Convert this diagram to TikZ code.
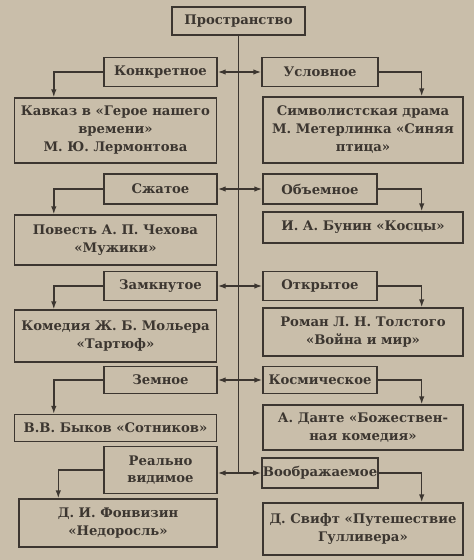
\documentclass[tikz,border=0pt]{standalone}
\usepackage{fontspec}
\setmainfont{DejaVu Serif}
\usetikzlibrary{arrows.meta}
\definecolor{paper}{RGB}{201,190,170}
\definecolor{ink}{RGB}{60,54,48}
\begin{document}
\begin{tikzpicture}[x=1pt,y=-1pt,line width=1.4pt,draw=ink,text=ink,>={Latex[length=8pt,width=5.5pt]},
    kind node/.style={rectangle,draw=ink,minimum width=113pt,minimum height=29pt,align=center,inner sep=1pt,font=\bfseries\fontsize{13.2}{17}\selectfont},
    work node/.style={rectangle,draw=ink,minimum width=202pt,align=center,inner sep=1pt,font=\bfseries\fontsize{13.2}{18}\selectfont}]
                \useasboundingbox[fill=paper] (0,0) rectangle (474,560);

                \node[kind node,minimum width=133pt,minimum height=28pt] at (238.5, 21) (space) {Пространство};
                \coordinate (spine) at (238.5, 473);

                \node[kind node] at (160.5, 72) (conc) {Конкретное};
                \node[kind node,minimum width=116pt] at (320, 72) (cond) {Условное};
                \node[work node,minimum height=65pt] at (115.5, 130.5) (lerm) {Кавказ в «Герое нашего\\времени»\\М. Ю. Лермонтова};
                \node[work node,minimum width=200pt,minimum height=66pt] at (363, 130) (maet) {Символистская драма\\М. Метерлинка «Синяя\\птица»};

                \node[kind node,minimum height=30pt] at (160.5, 189) (comp) {Сжатое};
                \node[kind node,minimum width=114pt,minimum height=30pt] at (320, 189) (vol) {Объемное};
                \node[work node,minimum height=50pt] at (115.5, 240) (chek) {Повесть А. П. Чехова\\«Мужики»};
                \node[work node,minimum width=200pt,minimum height=31pt] at (363, 227.5) (bun) {И. А. Бунин «Косцы»};

                \node[kind node] at (160.5, 286) (closed) {Замкнутое};
                \node[kind node,minimum width=114pt] at (320, 286) (open) {Открытое};
                \node[work node,minimum height=52pt] at (115.5, 336) (mol) {Комедия Ж. Б. Мольера\\«Тартюф»};
                \node[work node,minimum width=200pt,minimum height=48pt] at (363, 332) (tol) {Роман Л. Н. Толстого\\«Война и мир»};

                \node[kind node,minimum height=27pt] at (160.5, 380) (earth) {Земное};
                \node[kind node,minimum width=114pt,minimum height=27pt] at (320, 380) (cosm) {Космическое};
                \node[work node,minimum height=27pt] at (115.5, 428) (byk) {В.В. Быков «Сотников»};
                \node[work node,minimum width=200pt,minimum height=45pt] at (363, 427.5) (dant) {А. Данте «Божествен-\\ная комедия»};

                \node[kind node,minimum height=47pt] at (160.5, 470) (real) {Реально\\видимое};
                \node[kind node,minimum width=114pt,minimum height=30pt] at (320, 473) (imag) {Воображаемое};
                \node[work node,minimum width=198pt,minimum height=48pt] at (118, 523) (fonv) {Д. И. Фонвизин\\«Недоросль»};
                \node[work node,minimum width=200pt,minimum height=52pt] at (363, 529) (swift) {Д. Свифт «Путешествие\\Гулливера»};

                % spine and branches
                \draw (space) -- (spine);
                \path[<->] (conc) edge (cond);
                \path[<->] (comp) edge (vol);
                \path[<->] (closed) edge (open);
                \path[<->] (earth) edge (cosm);
                \path[<->] (real.east |- spine) edge (imag);

                % down to the examples
                \draw[->] (conc.west) -| ([xshift=40pt]lerm.north west);
                \draw[->] (cond.east) -| ([xshift=-42pt]maet.north east);
                \draw[->] (comp.west) -| ([xshift=40pt]chek.north west);
                \draw[->] (vol.east) -| ([xshift=-42pt]bun.north east);
                \draw[->] (closed.west) -| ([xshift=40pt]mol.north west);
                \draw[->] (open.east) -| ([xshift=-42pt]tol.north east);
                \draw[->] (earth.west) -| ([xshift=40pt]byk.north west);
                \draw[->] (cosm.east) -| ([xshift=-42pt]dant.north east);
                \draw[->] (real.west) -| ([xshift=40pt]fonv.north west);
                \draw[->] (imag.east) -| ([xshift=-42pt]swift.north east);
            \end{tikzpicture}
\end{document}
